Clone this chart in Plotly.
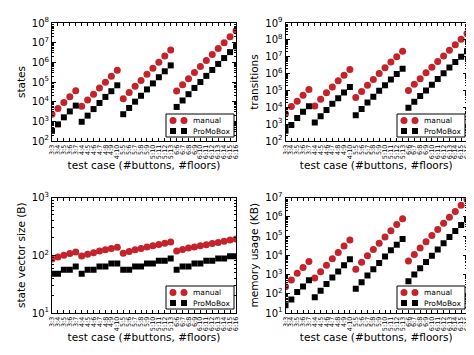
import plotly.graph_objects as go

buttons_floors = [(3, 3), (3, 4), (3, 5), (3, 6), (3, 7),
                  (4, 4), (4, 5), (4, 6), (4, 7), (4, 8), (4, 9), (4, 10),
                  (5, 5), (5, 6), (5, 7), (5, 8), (5, 9), (5, 10), (5, 11), (5, 12), (5, 13),
                  (6, 6), (6, 7), (6, 8), (6, 9), (6, 10), (6, 11), (6, 12), (6, 13), (6, 14), (6, 15), (6, 16)]
tick_labels = [f"{b}:{f}" for b, f in buttons_floors]
x_idx = list(range(len(tick_labels)))

states_manual = [2300, 4500, 9200, 18000, 36000,
                 5800, 12000, 24000, 49000, 98000, 195000, 400000,
                 14000, 29000, 60000, 120000, 245000, 500000, 1000000, 2100000, 4200000,
                 35000, 72000, 148000, 300000, 610000, 1230000, 2500000, 5000000, 10000000, 20000000, 40000000]
states_promobox = [330, 700, 1600, 3200, 6300,
                   950, 1950, 4200, 8600, 17500, 34000, 68000,
                   2300, 4800, 10000, 20000, 42000, 85000, 175000, 350000, 700000,
                   5400, 11500, 24000, 50000, 100000, 205000, 410000, 830000, 1650000, 3300000, 6500000]

trans_manual = [4100, 11000, 23000, 52000, 115000,
                12000, 30000, 72000, 160000, 370000, 800000, 1750000,
                38000, 85000, 200000, 450000, 1000000, 2200000, 4800000, 10000000, 21000000,
                100000, 230000, 500000, 1100000, 2400000, 5200000, 11000000, 24000000, 52000000, 110000000, 230000000]
trans_promobox = [410, 900, 2300, 5400, 11500,
                  1260, 2900, 6900, 16000, 34000, 75000, 160000,
                  3400, 8000, 19000, 42000, 95000, 200000, 440000, 950000, 1900000,
                  9500, 21000, 46000, 100000, 220000, 480000, 1050000, 2300000, 4800000, 10000000, 21000000]

svs_manual = [86, 93, 100, 107, 114,
              97, 104, 111, 118, 124, 131, 138,
              108, 116, 124, 131, 139, 146, 153, 161, 169,
              119, 126, 133, 139, 146, 152, 159, 166, 174, 183, 192]
svs_promobox = [48, 48, 56, 56, 64,
                48, 56, 56, 64, 64, 72, 72,
                56, 56, 64, 64, 72, 72, 80, 80, 88,
                56, 64, 64, 72, 72, 80, 80, 88, 88, 96, 96]

mem_manual = [230, 520, 1150, 2300, 4800,
              650, 1400, 3000, 6500, 14000, 30000, 62000,
              1900, 4300, 9500, 20000, 42000, 90000, 190000, 400000, 780000,
              5000, 11000, 24000, 50000, 105000, 220000, 460000, 950000, 1900000, 3900000, 7800000]
mem_promobox = [25, 50, 125, 240, 510,
                65, 145, 320, 700, 1450, 3000, 6200,
                180, 400, 900, 1900, 4000, 8500, 18000, 35000, 70000,
                450, 1000, 2100, 4500, 9500, 20000, 42000, 88000, 180000, 370000, 750000]

series_names = ["manual", "ProMoBox"]
# (y title, manual values, ProMoBox values, decade exponents shown on the y axis)
panels = [
    ("states", states_manual, states_promobox, [2, 3, 4, 5, 6, 7, 8]),
    ("transitions", trans_manual, trans_promobox, [2, 3, 4, 5, 6, 7, 8, 9]),
    ("state vector size (B)", svs_manual, svs_promobox, [1, 2, 3]),
    ("memory usage (KB)", mem_manual, mem_promobox, [1, 2, 3, 4, 5, 6, 7]),
]
minor_digits = [2, 3, 4, 5, 6, 7, 8, 9]

W, H = 474, 355
# pixel boxes of the axes: (left, right), (top, bottom)
xpix = [(44, 228), (277.5, 459)]
ypix = [(15, 133), (189.5, 305)]

RED = "#c4232b"
FONT = "DejaVu Sans"


def px(x):
    return x / W


def py(y):
    return 1 - y / H


fig = go.Figure()
layout = dict(
    template="none",
    width=W, height=H,
    margin=dict(l=0, r=0, t=0, b=0, autoexpand=False),
    paper_bgcolor="white", plot_bgcolor="white",
    font=dict(family=FONT, color="black"),
    showlegend=False,
)
shapes = []
annotations = []

for i, (title, man, pmb, exps) in enumerate(panels):
    row, col = divmod(i, 2)
    n = i + 1
    xa = "x" if n == 1 else f"x{n}"
    ya = "y" if n == 1 else f"y{n}"
    fig.add_trace(go.Scatter(x=x_idx, y=man, mode="markers", name=series_names[0],
                             marker=dict(symbol="circle", size=7, color=RED,
                                         line=dict(width=0)),
                             xaxis=xa, yaxis=ya))
    fig.add_trace(go.Scatter(x=x_idx, y=pmb, mode="markers", name=series_names[1],
                             marker=dict(symbol="square", size=6, color="black",
                                         line=dict(width=0)),
                             xaxis=xa, yaxis=ya))
    xkey = "xaxis" if n == 1 else f"xaxis{n}"
    ykey = "yaxis" if n == 1 else f"yaxis{n}"
    L, R = xpix[col]
    T, B = ypix[row]
    layout[xkey] = dict(
        domain=[px(L), px(R)], anchor=ya, range=[0, len(x_idx) - 1],
        tickvals=x_idx, ticktext=tick_labels, tickangle=-90,
        tickfont=dict(size=6.5, family=FONT, color="black"),
        ticks="inside", ticklen=3, tickcolor="black", tickwidth=1,
        showline=True, linecolor="black", linewidth=1, mirror="allticks",
        showgrid=False, zeroline=False, automargin=False,
        title=dict(text="test case (#buttons, #floors)",
                   font=dict(size=10.5, family=FONT, color="black"), standoff=3),
    )
    minor_vals = [d * 10 ** e for e in exps[:-1] for d in minor_digits]
    layout[ykey] = dict(
        domain=[py(B), py(T)], anchor=xa, type="log", range=[exps[0], exps[-1]],
        tickvals=[10 ** e for e in exps],
        ticktext=[f"10<sup>{e}</sup>" for e in exps],
        tickfont=dict(size=10, family=FONT, color="black"),
        ticks="inside", ticklen=4, tickcolor="black", tickwidth=1,
        showline=True, linecolor="black", linewidth=1,
        mirror="allticks", showgrid=False, zeroline=False, automargin=False,
        minor=dict(tickmode="array", tickvals=minor_vals, ticks="inside", ticklen=2,
                   tickcolor="black", tickwidth=0.6, showgrid=False),
        title=dict(text=title, font=dict(size=10.5, family=FONT, color="black"), standoff=4),
    )

    # legend box (matplotlib style, two markers per entry)
    bx0, bx1 = R - 70, R - 2
    by0, by1 = B - 27, B - 4
    shapes.append(dict(type="rect", xref="paper", yref="paper",
                       x0=px(bx0), x1=px(bx1), y0=py(by1), y1=py(by0),
                       line=dict(color="black", width=1), fillcolor="white", layer="above"))
    rows_y = [by0 + 6.5, by0 + 17]
    for mx in (bx0 + 7, bx0 + 18):
        shapes.append(dict(type="circle", xref="paper", yref="paper",
                           x0=px(mx - 3.5), x1=px(mx + 3.5),
                           y0=py(rows_y[0] + 3.5), y1=py(rows_y[0] - 3.5),
                           line=dict(width=0), fillcolor=RED, layer="above"))
        shapes.append(dict(type="rect", xref="paper", yref="paper",
                           x0=px(mx - 3), x1=px(mx + 3),
                           y0=py(rows_y[1] + 3), y1=py(rows_y[1] - 3),
                           line=dict(width=0), fillcolor="black", layer="above"))
    for name, ry in zip(series_names, rows_y):
        annotations.append(dict(text=name, xref="paper", yref="paper",
                                x=px(bx0 + 25), y=py(ry), xanchor="left", yanchor="middle",
                                showarrow=False, font=dict(size=7.5, family=FONT, color="black")))

layout["shapes"] = shapes
layout["annotations"] = annotations
fig.update_layout(**layout)
fig.write_html("out.html")
